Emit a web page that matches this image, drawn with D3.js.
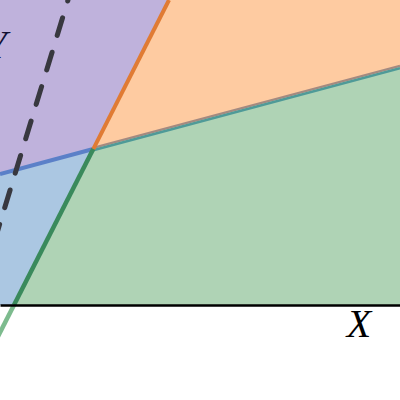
<!DOCTYPE html>
<html lang="en">
  <head>
    <meta charset="utf-8">
    <title></title>
    <script src="https://d3js.org/d3.v7.min.js"></script>
    <style type="text/css">
      body { margin: 0; background: #fff; }
    </style>
  </head>
  <body>
  <svg width="400" height="400" id="svg1"></svg>
  <script>
    // each line is given by two points (data units)
    var lineA = [[0.28, 0], [3.38, 6.1]];      // steep line (orange above, green below)
    var lineB = [[0, 2.62], [8, 4.76]];        // shallow line
    var dashLine = [[-0.1, 1.31], [1.36, 6.1]]; // dashed line
    var xDomain = [0, 8];
    var yDomain = [-1.9, 6.1];
    var axisLabels = ["X", "Y"];

    var svg = d3.select("#svg1");
    var width = +svg.attr("width");
    var height = +svg.attr("height");

    var xScale = d3.scaleLinear().domain(xDomain).range([0, width]);
    var yScale = d3.scaleLinear().domain(yDomain).range([height, 0]);

    // x at given y on a line, y at given x on a line
    function xAt(l, y) {
      return l[0][0] + (y - l[0][1]) * (l[1][0] - l[0][0]) / (l[1][1] - l[0][1]);
    }
    function yAt(l, x) {
      return l[0][1] + (x - l[0][0]) * (l[1][1] - l[0][1]) / (l[1][0] - l[0][0]);
    }
    // intersection of A and B
    function meet(a, b) {
      var ma = (a[1][1] - a[0][1]) / (a[1][0] - a[0][0]);
      var mb = (b[1][1] - b[0][1]) / (b[1][0] - b[0][0]);
      var x = (b[0][1] - a[0][1] + ma * a[0][0] - mb * b[0][0]) / (ma - mb);
      return [x, a[0][1] + ma * (x - a[0][0])];
    }

    var x0 = xDomain[0], x1 = xDomain[1], yTop = yDomain[1];
    var P = meet(lineA, lineB);
    var aTop = [xAt(lineA, yTop), yTop];
    var aAxis = [xAt(lineA, 0), 0];
    var bLeft = [x0, yAt(lineB, x0)];
    var bRight = [x1, yAt(lineB, x1)];

    var regions = [
      {fill: "#bfb2dc", pts: [[x0, yTop], aTop, P, bLeft]},
      {fill: "#fecba1", pts: [aTop, [x1, yTop], bRight, P]},
      {fill: "#afd3b5", pts: [P, bRight, [x1, 0], aAxis]},
      {fill: "#abc7e2", pts: [bLeft, P, aAxis, [x0, 0]]}
    ];

    var path = d3.line().x(function(d) { return xScale(d[0]); }).y(function(d) { return yScale(d[1]); });

    svg.selectAll(".region").data(regions).enter().append("path")
      .attr("class", "region")
      .attr("d", function(d) { return path(d.pts) + "Z"; })
      .attr("fill", function(d) { return d.fill; });

    // line A below the axis (faded)
    var aBottom = [xAt(lineA, yDomain[0]), yDomain[0]];
    svg.append("path").attr("d", path([aAxis, aBottom]))
      .attr("stroke", "#7dbb8e").attr("stroke-width", 4.5).attr("fill", "none");

    // line B right segment: two thin overlapping strokes
    svg.append("path").attr("d", path([P, bRight]))
      .attr("transform", "translate(0,-1.2)")
      .attr("stroke", "#a48a80").attr("stroke-width", 2.4).attr("fill", "none");
    svg.append("path").attr("d", path([P, bRight]))
      .attr("transform", "translate(0,1.2)")
      .attr("stroke", "#4f9a98").attr("stroke-width", 2.4).attr("fill", "none");
    // line B left segment
    svg.append("path").attr("d", path([bLeft, P]))
      .attr("stroke", "#5b80c8").attr("stroke-width", 4).attr("fill", "none");

    // line A
    svg.append("path").attr("d", path([P, aTop]))
      .attr("stroke", "#e07b34").attr("stroke-width", 4).attr("fill", "none");
    svg.append("path").attr("d", path([aAxis, P]))
      .attr("stroke", "#3a8a5c").attr("stroke-width", 4.5).attr("fill", "none");

    // dashed line
    svg.append("path").attr("d", path(dashLine))
      .attr("stroke", "#38383f").attr("stroke-width", 5)
      .attr("stroke-linecap", "round")
      .attr("stroke-dasharray", "18.5,17.5")
      .attr("stroke-dashoffset", 2.7)
      .attr("fill", "none");

    // x axis
    var xAxis = d3.axisBottom(xScale).tickValues([]).tickSizeOuter(0);
    var gx = svg.append("g").attr("transform", "translate(0," + yScale(0) + ")").call(xAxis);
    gx.select(".domain").attr("stroke", "#000").attr("stroke-width", 2.5);

    svg.append("text")
      .attr("x", 359).attr("y", 337)
      .attr("text-anchor", "middle")
      .attr("font-family", "Liberation Serif")
      .attr("font-style", "italic")
      .attr("font-size", 40)
      .text(axisLabels[0]);
    svg.append("text")
      .attr("x", 7).attr("y", 58)
      .attr("text-anchor", "end")
      .attr("font-family", "Liberation Serif")
      .attr("font-style", "italic")
      .attr("font-size", 40)
      .attr("fill", "#111133")
      .text(axisLabels[1]);
  </script>
  </body>
</html>
